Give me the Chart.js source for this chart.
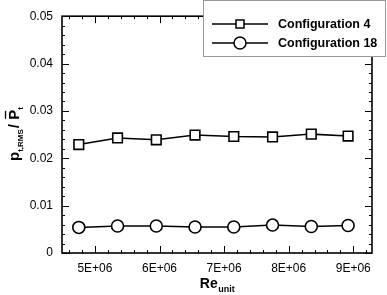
<!DOCTYPE html>
<html>
<head>
<meta charset="utf-8">
<script src="https://cdn.jsdelivr.net/npm/chart.js@4.4.1/dist/chart.umd.min.js"></script>
<style>
  html, body { margin: 0; padding: 0; background: #fff; }
  #wrap { width: 387px; height: 295px; position: relative; }
</style>
</head>
<body>
<div id="wrap"><canvas id="rmsChart"></canvas></div>
<script>
// Re_unit values (x) and p_t,RMS / P_t (y)
const reUnit = [4.75e6, 5.35e6, 5.95e6, 6.55e6, 7.15e6, 7.75e6, 8.35e6, 8.92e6];
const config4 = [0.0229, 0.0243, 0.0239, 0.0249, 0.0246, 0.0245, 0.0251, 0.0247];
const config18 = [0.0054, 0.0057, 0.0057, 0.0055, 0.0055, 0.0059, 0.0056, 0.0058];
const seriesNames = ['Configuration 4', 'Configuration 18'];
const xTicks = [5e6, 6e6, 7e6, 8e6, 9e6];
const yTicks = [0, 0.01, 0.02, 0.03, 0.04, 0.05];

const FONT = '"Liberation Sans", Arial, Helvetica, sans-serif';

function toPoints(xs, ys) {
  return xs.map((x, i) => ({ x: x, y: ys[i] }));
}

// frame, inward ticks (all four sides), axis titles, legend box
const decorPlugin = {
  id: 'decor',
  afterDraw(chart) {
    const ctx = chart.ctx;
    const a = chart.chartArea;
    const xs = chart.scales.x;
    const ys = chart.scales.y;
    ctx.save();
    ctx.strokeStyle = '#000';

    // minor / major ticks
    ctx.lineWidth = 1;
    ctx.beginPath();
    for (let v = 4.6e6; v <= xs.max + 1; v += 0.2e6) {
      const px = Math.round(xs.getPixelForValue(v)) + 0.5;
      const major = xTicks.some((t) => Math.abs(t - v) < 1e3);
      const len = major ? 7 : 3;
      ctx.moveTo(px, a.bottom); ctx.lineTo(px, a.bottom - len);
      ctx.moveTo(px, a.top); ctx.lineTo(px, a.top + len);
    }
    for (let i = 0; i <= 25; i++) {
      const v = i * 0.002;
      const py = Math.round(ys.getPixelForValue(v)) + 0.5;
      const len = i % 5 === 0 ? 7 : 3;
      ctx.moveTo(a.left, py); ctx.lineTo(a.left + len, py);
      ctx.moveTo(a.right, py); ctx.lineTo(a.right - len, py);
    }
    ctx.stroke();

    // frame
    ctx.lineWidth = 1.6;
    ctx.strokeRect(a.left, a.top, a.right - a.left, a.bottom - a.top);

    // x title: Re_unit
    ctx.fillStyle = '#000';
    ctx.textBaseline = 'alphabetic';
    ctx.font = 'bold 14px ' + FONT;
    const cx = (a.left + a.right) / 2;
    const reW = ctx.measureText('Re').width;
    ctx.font = 'bold 9px ' + FONT;
    const unitW = ctx.measureText('unit').width;
    let tx = cx - (reW + unitW) / 2;
    ctx.font = 'bold 14px ' + FONT;
    ctx.fillText('Re', tx, 288);
    ctx.font = 'bold 9px ' + FONT;
    ctx.fillText('unit', tx + reW + 0.5, 292);

    // y title: p_t,RMS / P̄_t
    ctx.save();
    ctx.translate(19, (a.top + a.bottom) / 2);
    ctx.rotate(-Math.PI / 2);
    const parts = [
      { t: 'p', f: 'bold 15px ', dy: 0 },
      { t: 't,RMS', f: 'bold 8px ', dy: 4 },
      { t: '/ ', f: 'bold 15px ', dy: 0 },
      { t: 'P', f: 'bold 15px ', dy: 0, bar: true },
      { t: 't', f: 'bold 8px ', dy: 4 }
    ];
    let total = 0;
    parts.forEach((p) => { ctx.font = p.f + FONT; p.w = ctx.measureText(p.t).width; total += p.w; });
    let px = -total / 2;
    parts.forEach((p) => {
      ctx.font = p.f + FONT;
      ctx.fillText(p.t, px, p.dy);
      if (p.bar) {
        ctx.lineWidth = 1.3;
        ctx.beginPath();
        ctx.moveTo(px + 1, -13.5); ctx.lineTo(px + p.w - 1, -13.5);
        ctx.stroke();
      }
      px += p.w + (p.dy ? 1 : 0);
    });
    ctx.restore();

    // legend
    const lx = 203.5, ly = 0.5, lw = 182, lh = 56;
    ctx.fillStyle = '#fff';
    ctx.fillRect(lx, ly, lw, lh);
    ctx.strokeStyle = '#999';
    ctx.lineWidth = 1;
    ctx.strokeRect(lx, ly, lw, lh);
    chart.data.datasets.forEach((ds, i) => {
      const y = 24 + i * 19;
      ctx.strokeStyle = '#000';
      ctx.lineWidth = 1.5;
      ctx.beginPath();
      ctx.moveTo(212, y); ctx.lineTo(268, y);
      ctx.stroke();
      ctx.fillStyle = '#fff';
      ctx.beginPath();
      if (ds.pointStyle === 'rect') {
        ctx.rect(236, y - 4, 8, 8);
      } else {
        ctx.arc(240, y, 6, 0, Math.PI * 2);
      }
      ctx.fill();
      ctx.stroke();
      ctx.fillStyle = '#000';
      ctx.font = 'bold 12.5px ' + FONT;
      ctx.textBaseline = 'middle';
      ctx.fillText(ds.label, 278, y + 0.5);
    });
    ctx.restore();
  }
};

new Chart(document.getElementById('rmsChart'), {
  type: 'line',
  data: {
    datasets: [
      {
        label: seriesNames[0],
        data: toPoints(reUnit, config4),
        borderColor: '#000',
        borderWidth: 1.5,
        pointStyle: 'rect',
        pointRadius: 6.8,
        pointBorderWidth: 1.6,
        pointBackgroundColor: '#fff',
        pointBorderColor: '#000',
        tension: 0
      },
      {
        label: seriesNames[1],
        data: toPoints(reUnit, config18),
        borderColor: '#000',
        borderWidth: 1.5,
        pointStyle: 'circle',
        pointRadius: 6,
        pointBorderWidth: 1.6,
        pointBackgroundColor: '#fff',
        pointBorderColor: '#000',
        tension: 0
      }
    ]
  },
  options: {
    responsive: true,
    maintainAspectRatio: false,
    animation: false,
    devicePixelRatio: 1,
    layout: { padding: { left: 0, top: 8, right: 15, bottom: 0 } },
    scales: {
      x: {
        type: 'linear',
        min: 4.49e6,
        max: 9.29e6,
        afterBuildTicks: (scale) => {
          scale.ticks = xTicks.map((v) => ({ value: v }));
        },
        afterFit: (scale) => { scale.height = 42; },
        grid: { display: false, drawTicks: false },
        border: { display: false },
        ticks: {
          padding: 8,
          color: '#000',
          font: { family: FONT, size: 12 },
          maxRotation: 0,
          callback: (v) => Math.round(v / 1e6) + 'E+06'
        }
      },
      y: {
        type: 'linear',
        min: 0,
        max: 0.05,
        afterBuildTicks: (scale) => {
          scale.ticks = yTicks.map((v) => ({ value: v }));
        },
        afterFit: (scale) => { scale.width = 62; },
        grid: { display: false, drawTicks: false },
        border: { display: false },
        ticks: {
          padding: 9,
          color: '#000',
          font: { family: FONT, size: 12 },
          callback: (v) => (v === 0 ? '0' : v.toFixed(2))
        }
      }
    },
    plugins: {
      legend: { display: false },
      tooltip: { enabled: false }
    }
  },
  plugins: [decorPlugin]
});
</script>
</body>
</html>
